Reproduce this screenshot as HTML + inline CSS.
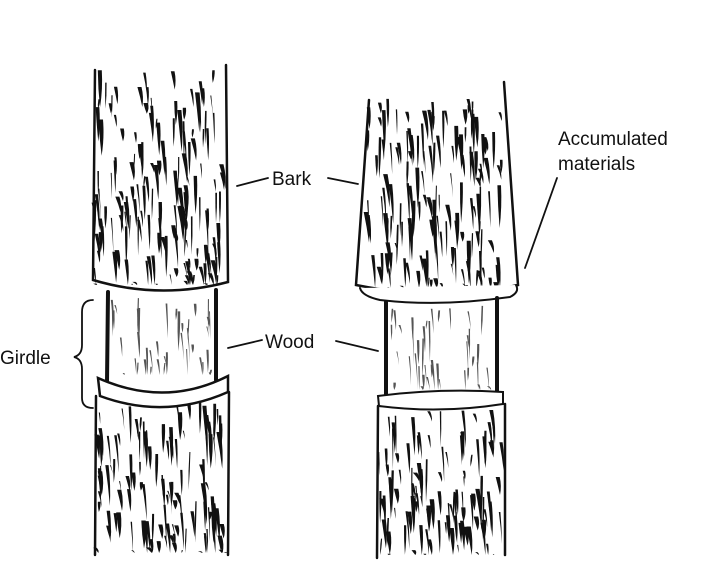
<!DOCTYPE html>
<html><head><meta charset="utf-8"><style>
html,body{margin:0;padding:0;background:#fff;}
svg{display:block}
text{font-family:"Liberation Sans",sans-serif;font-size:19px;fill:#111}
</style></head><body>
<svg id="s" width="715" height="568" viewBox="0 0 715 568" xmlns="http://www.w3.org/2000/svg">
<g id="bark"></g>
<g fill="none" stroke="#111" stroke-width="2.5" stroke-linecap="round">
<path d="M95,70 L93,280 Q160,300 228,282 L226,65"/>
<path d="M108,292 L107,382 M216,290 L216,380" stroke-width="4"/>
<path d="M98,378 Q165,408 228,376 L228,392 Q165,420 100,396Z" fill="#fff"/>
<path d="M96,396 L95,555 M229,392 L228,555"/>
<path d="M369,100 L356,285 Q440,302 518,285 L504,82"/>
<path d="M360,288 Q362,296 380,300 Q440,307 510,297 Q520,292 516,285" fill="#fff" stroke-width="2"/>
<path d="M386,302 L386,394 M497,298 L497,392" stroke-width="4"/>
<path d="M378,396 Q440,388 503,392 L503,404 Q440,414 379,406Z" fill="#fff" stroke-width="2"/>
<path d="M378,406 L377,558 M505,404 L505,555"/>
<path d="M237,186 L268,178 M328,178 L358,184" stroke-width="1.8"/>
<path d="M228,348 L262,340 M336,341 L378,351" stroke-width="1.8"/>
<path d="M557,178 L525,268" stroke-width="1.8"/>
<path d="M93,300 Q82,300 82,312 L82,345 Q82,355 74,357 Q82,359 82,369 L82,398 Q82,408 93,408" stroke-width="1.8"/>
</g>
<text x="272" y="185">Bark</text>
<text x="265" y="348">Wood</text>
<text x="0" y="364">Girdle</text>
<text x="558" y="145">Accumulated</text>
<text x="558" y="170">materials</text>
</svg>
<script>
var seed=7;function r(){seed=(seed*16807)%2147483647;return seed/2147483647;}
var g=document.getElementById('bark'),out='';
function streaks(x0,x1,y0,y1,n,wmax,col){
 for(var i=0;i<n;i++){var x=x0+r()*(x1-x0),y=y0+r()*(y1-y0),h=8+r()*35,w=1+r()*wmax;
  if(y+h>y1)h=y1-y;var dx=(r()-0.5)*4;
  out+='<path d="M'+x.toFixed(1)+','+y.toFixed(1)+' q'+(dx/2+w/2).toFixed(1)+','+(h/2).toFixed(1)+' '+dx.toFixed(1)+','+h.toFixed(1)+' q'+(-w/2).toFixed(1)+','+(-h/2).toFixed(1)+' '+(-w-dx).toFixed(1)+','+(-h).toFixed(1)+'z" fill="'+col+'"/>';}
}
streaks(95,225,70,285,160,3.5,'#111');
streaks(96,226,400,553,120,3.5,'#111');
streaks(368,505,95,288,150,3.5,'#111');
streaks(379,503,410,555,110,3.5,'#111');
streaks(110,214,295,375,40,1.5,'#555');
streaks(389,495,302,390,40,1.5,'#555');
g.innerHTML=out;
</script>
</body></html>
